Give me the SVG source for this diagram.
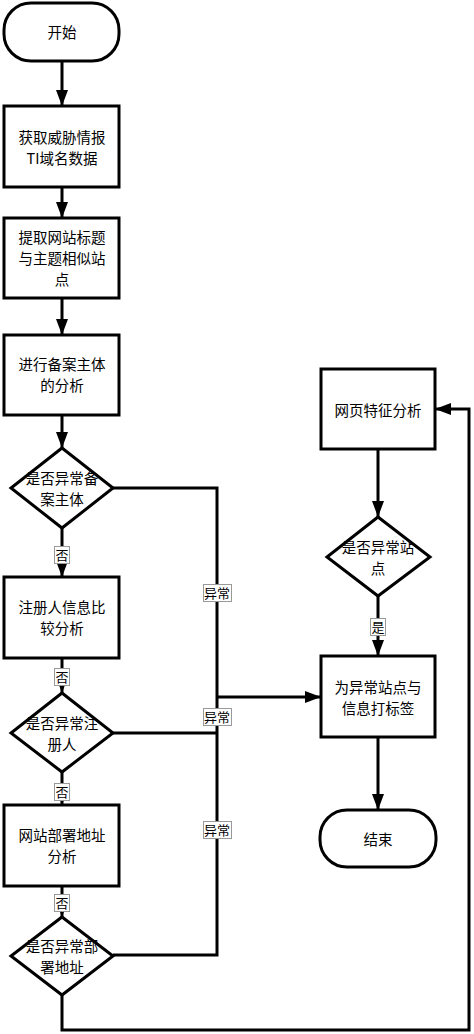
<svg xmlns="http://www.w3.org/2000/svg" width="474" height="1034" viewBox="0 0 474 1034">
<style>
.shape{fill:#fff;stroke:#000;stroke-width:3}
.conn{fill:none;stroke:#000;stroke-width:3}
.t{font-family:"Noto Sans CJK SC","Liberation Sans",sans-serif;font-size:14.5px;fill:#000;text-anchor:middle}
.lb{fill:#fff;stroke:#999;stroke-width:1}
.lt{font-family:"Noto Sans CJK SC","Liberation Sans",sans-serif;font-size:13px;fill:#000;text-anchor:middle}
</style>
<defs>
<marker id="ah" viewBox="0 0 16 12" refX="16" refY="6" markerWidth="16" markerHeight="12" markerUnits="userSpaceOnUse" orient="auto">
<path d="M0,0 L16,6 L0,12 z" fill="#000"/>
</marker>
</defs>
<rect width="474" height="1034" fill="#fff"/>
<g id="connectors">
<path class="conn" d="M62,62 V106" marker-end="url(#ah)"/>
<path class="conn" d="M62,187 V218" marker-end="url(#ah)"/>
<path class="conn" d="M62,298 V335" marker-end="url(#ah)"/>
<path class="conn" d="M62,415 V448" marker-end="url(#ah)"/>
<path class="conn" d="M62,528 V577" marker-end="url(#ah)"/>
<path class="conn" d="M62,658 V693" marker-end="url(#ah)"/>
<path class="conn" d="M62,772 V805" marker-end="url(#ah)"/>
<path class="conn" d="M62,886 V917" marker-end="url(#ah)"/>
<path class="conn" d="M113,488 H217 V955 H113"/>
<path class="conn" d="M113,733 H217"/>
<path class="conn" d="M217,697 H321" marker-end="url(#ah)"/>
<path class="conn" d="M62,995 V1030 H469 V409 H435" marker-end="url(#ah)"/>
<path class="conn" d="M378,449 V517" marker-end="url(#ah)"/>
<path class="conn" d="M378,596 V656" marker-end="url(#ah)"/>
<path class="conn" d="M378,737 V810" marker-end="url(#ah)"/>
<g id="labels">
<rect class="lb" x="54.500" y="546.500" width="15" height="17"/><text class="lt" x="62" y="559.500">否</text>
<rect class="lb" x="54.500" y="668.500" width="15" height="17"/><text class="lt" x="62" y="681.500">否</text>
<rect class="lb" x="54.500" y="783.500" width="15" height="17"/><text class="lt" x="62" y="796.500">否</text>
<rect class="lb" x="54.500" y="894.500" width="15" height="17"/><text class="lt" x="62" y="907.500">否</text>
<rect class="lb" x="203.500" y="584.500" width="28" height="17"/><text class="lt" x="217" y="597.500">异常</text>
<rect class="lb" x="203.500" y="708.500" width="28" height="17"/><text class="lt" x="217" y="721.500">异常</text>
<rect class="lb" x="203.500" y="821.500" width="28" height="17"/><text class="lt" x="217" y="834.500">异常</text>
<rect class="lb" x="370.500" y="618.500" width="15" height="17"/><text class="lt" x="378" y="631.500">是</text>
</g>
</g>
<g id="start"><rect class="shape" x="4" y="3" width="115" height="58" rx="27" ry="27"/><text class="t" x="62" y="38">开始</text></g>
<g id="n1"><rect class="shape" x="4" y="106" width="115" height="81"/><text class="t" x="62" y="143">获取威胁情报<tspan x="62" dy="21">TI域名数据</tspan></text></g>
<g id="n2"><rect class="shape" x="4" y="218" width="115" height="80"/><text class="t" x="62" y="243">提取网站标题<tspan x="62" dy="21">与主题相似站</tspan><tspan x="62" dy="21">点</tspan></text></g>
<g id="n3"><rect class="shape" x="4" y="335" width="115" height="80"/><text class="t" x="62" y="370">进行备案主体<tspan x="62" dy="21">的分析</tspan></text></g>
<g id="d1"><polygon class="shape" points="62,448 113,488 62,528 11,488"/><text class="t" x="62" y="484">是否异常备<tspan x="62" dy="21">案主体</tspan></text></g>
<g id="n4"><rect class="shape" x="4" y="577" width="115" height="81"/><text class="t" x="62" y="613">注册人信息比<tspan x="62" dy="21">较分析</tspan></text></g>
<g id="d2"><polygon class="shape" points="62,693 113,733 62,772 11,733"/><text class="t" x="62" y="729">是否异常注<tspan x="62" dy="21">册人</tspan></text></g>
<g id="n5"><rect class="shape" x="4" y="805" width="115" height="81"/><text class="t" x="62" y="841">网站部署地址<tspan x="62" dy="21">分析</tspan></text></g>
<g id="d3"><polygon class="shape" points="62,917 113,956 62,995 11,956"/><text class="t" x="62" y="952">是否异常部<tspan x="62" dy="21">署地址</tspan></text></g>
<g id="n6"><rect class="shape" x="321" y="369" width="114" height="80"/><text class="t" x="378" y="416">网页特征分析</text></g>
<g id="d4"><polygon class="shape" points="378,517 430,557 378,596 327,557"/><text class="t" x="378" y="553">是否异常站<tspan x="378" dy="21">点</tspan></text></g>
<g id="n7"><rect class="shape" x="321" y="656" width="114" height="81"/><text class="t" x="378" y="693">为异常站点与<tspan x="378" dy="21">信息打标签</tspan></text></g>
<g id="end"><rect class="shape" x="320" y="810" width="116" height="57" rx="27" ry="27"/><text class="t" x="378" y="845">结束</text></g>
</svg>
